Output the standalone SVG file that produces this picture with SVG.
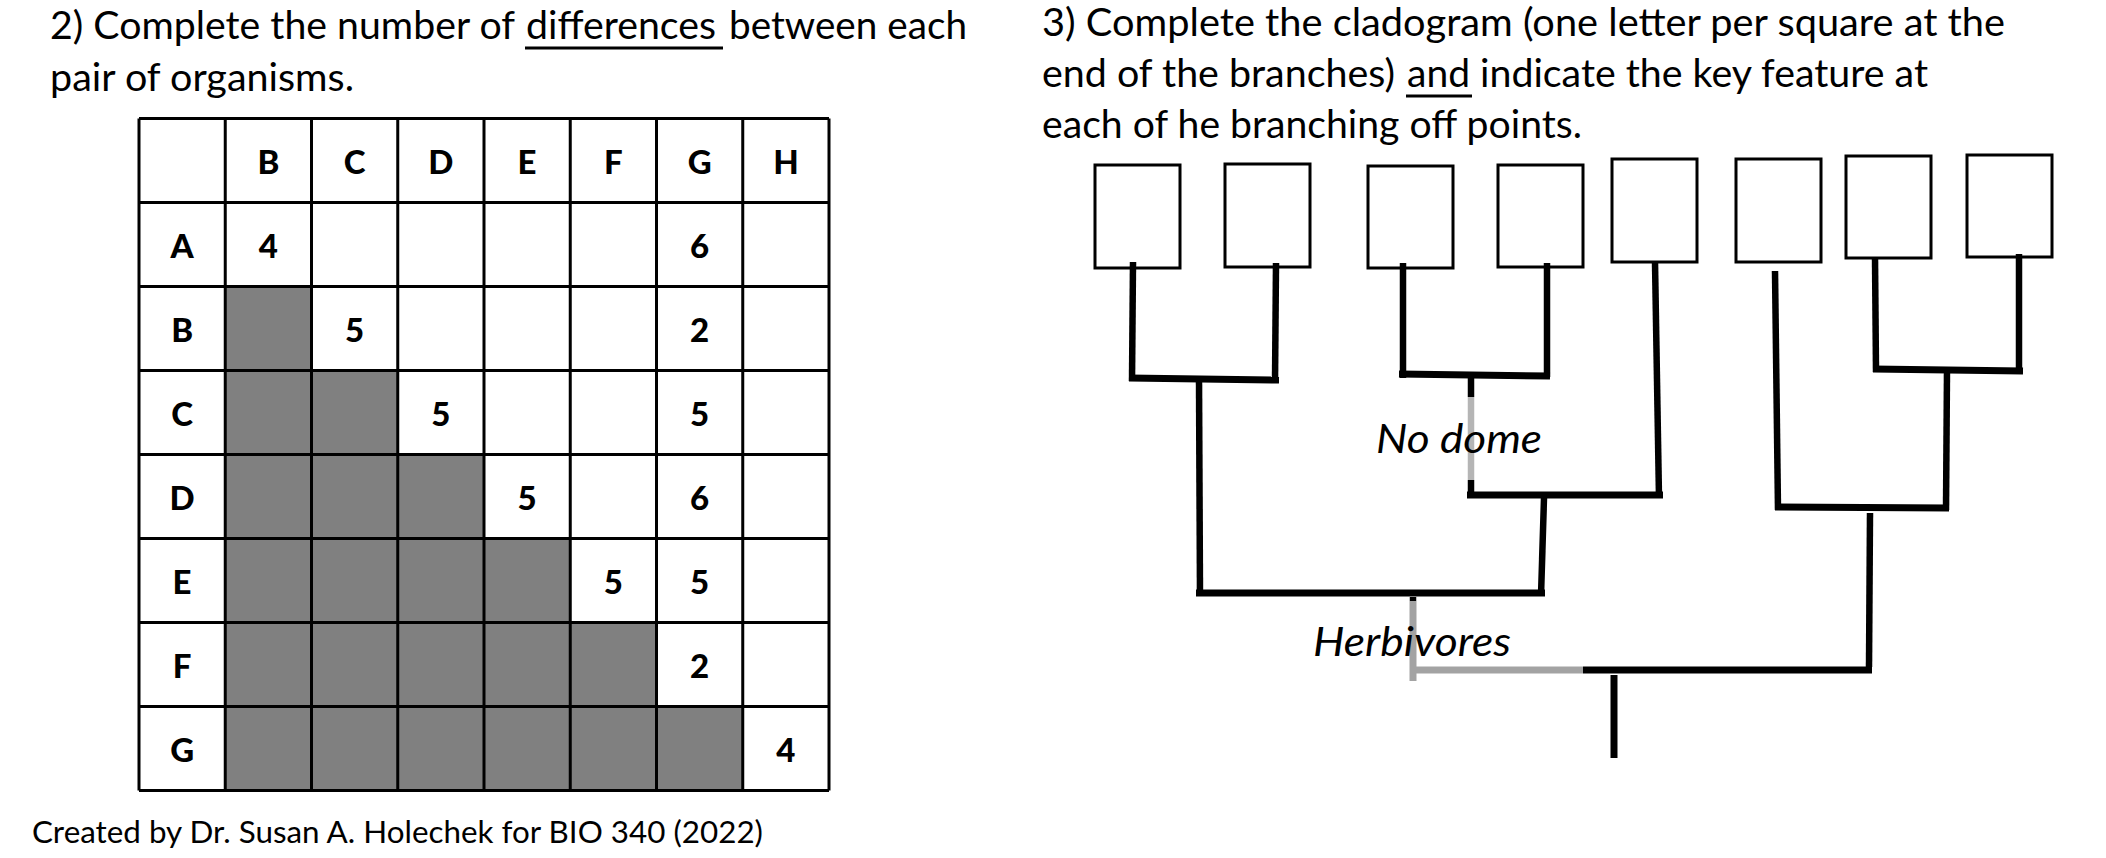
<svg xmlns="http://www.w3.org/2000/svg" width="2106" height="858" viewBox="0 0 2106 858">
<style>
.t{font-family:Lato,"Liberation Sans",sans-serif;font-size:38px;fill:#000}
.ft{font-family:Lato,"Liberation Sans",sans-serif;font-size:31px;fill:#000}
.c{font-family:Lato,"Liberation Sans",sans-serif;font-size:33px;font-weight:900;fill:#000;text-anchor:middle}
.lab{font-family:Lato,"Liberation Sans",sans-serif;font-size:40px;font-style:italic;fill:#000}
.grid{stroke:#000;stroke-width:3;fill:none}
.gray{fill:#808080}
.box{fill:#fff;stroke:#000;stroke-width:3}
.br{stroke:#000;stroke-width:6.5;fill:none;stroke-linecap:butt}
.bar{stroke:#000;stroke-width:7;fill:none}
.g1{stroke:#b5b5b5;stroke-width:6.5;fill:none}
.g2{stroke:#a3a3a3;stroke-width:7;fill:none}
.ul{stroke:#000;stroke-width:3}
</style>
<rect width="2106" height="858" fill="#fff"/>

<g id="title-left">
<text class="t" x="50" y="39" textLength="465" lengthAdjust="spacingAndGlyphs">2) Complete the number of</text>
<text class="t" x="526" y="39" textLength="190" lengthAdjust="spacingAndGlyphs">differences</text>
<line class="ul" x1="525" y1="48" x2="723" y2="48"/>
<text class="t" x="729" y="39" textLength="238" lengthAdjust="spacingAndGlyphs">between each</text>
<text class="t" x="50" y="91" textLength="304" lengthAdjust="spacingAndGlyphs">pair of organisms.</text>
</g>

<g id="title-right">
<text class="t" x="1042" y="36" textLength="963" lengthAdjust="spacingAndGlyphs">3) Complete the cladogram (one letter per square at the</text>
<text class="t" x="1042" y="87" textLength="353" lengthAdjust="spacingAndGlyphs">end of the branches)</text>
<text class="t" x="1407" y="87" textLength="63" lengthAdjust="spacingAndGlyphs">and</text>
<line class="ul" x1="1406" y1="96" x2="1472" y2="96"/>
<text class="t" x="1480" y="87" textLength="448" lengthAdjust="spacingAndGlyphs">indicate the key feature at</text>
<text class="t" x="1042" y="138" textLength="540" lengthAdjust="spacingAndGlyphs">each of he branching off points.</text>
</g>

<g id="table">
<g id="shaded">
<rect class="gray" x="225.25" y="286.5" width="86.25" height="84"/>
<rect class="gray" x="225.25" y="370.5" width="172.5" height="84"/>
<rect class="gray" x="225.25" y="454.5" width="258.75" height="84"/>
<rect class="gray" x="225.25" y="538.5" width="345" height="84"/>
<rect class="gray" x="225.25" y="622.5" width="431.25" height="84"/>
<rect class="gray" x="225.25" y="706.5" width="517.5" height="84"/>
</g>
<path class="grid" d="M139 118.5V790.5M225.25 118.5V790.5M311.5 118.5V790.5M397.75 118.5V790.5M484 118.5V790.5M570.25 118.5V790.5M656.5 118.5V790.5M742.75 118.5V790.5M829 118.5V790.5M139 118.5H829M139 202.5H829M139 286.5H829M139 370.5H829M139 454.5H829M139 538.5H829M139 622.5H829M139 706.5H829M139 790.5H829"/>
<g id="headers">
<text class="c" x="268.4" y="173.5">B</text>
<text class="c" x="354.6" y="173.5">C</text>
<text class="c" x="440.9" y="173.5">D</text>
<text class="c" x="527.1" y="173.5">E</text>
<text class="c" x="613.4" y="173.5">F</text>
<text class="c" x="699.6" y="173.5">G</text>
<text class="c" x="785.9" y="173.5">H</text>
<text class="c" x="182.1" y="257.5">A</text>
<text class="c" x="182.1" y="341.5">B</text>
<text class="c" x="182.1" y="425.5">C</text>
<text class="c" x="182.1" y="509.5">D</text>
<text class="c" x="182.1" y="593.5">E</text>
<text class="c" x="182.1" y="677.5">F</text>
<text class="c" x="182.1" y="761.5">G</text>
</g>
<g id="values">
<text class="c" x="268.4" y="257.5">4</text>
<text class="c" x="699.6" y="257.5">6</text>
<text class="c" x="354.6" y="341.5">5</text>
<text class="c" x="699.6" y="341.5">2</text>
<text class="c" x="440.9" y="425.5">5</text>
<text class="c" x="699.6" y="425.5">5</text>
<text class="c" x="527.1" y="509.5">5</text>
<text class="c" x="699.6" y="509.5">6</text>
<text class="c" x="613.4" y="593.5">5</text>
<text class="c" x="699.6" y="593.5">5</text>
<text class="c" x="699.6" y="677.5">2</text>
<text class="c" x="785.9" y="761.5">4</text>
</g>
</g>

<g id="box1"><rect class="box" x="1095" y="165" width="85" height="103"/></g>
<g id="box2"><rect class="box" x="1225" y="164" width="85" height="103"/></g>
<g id="box3"><rect class="box" x="1368" y="166" width="85" height="102"/></g>
<g id="box4"><rect class="box" x="1498" y="165" width="85" height="102"/></g>
<g id="box5"><rect class="box" x="1612" y="159" width="85" height="103"/></g>
<g id="box6"><rect class="box" x="1736" y="159" width="85" height="103"/></g>
<g id="box7"><rect class="box" x="1846" y="156" width="85" height="102"/></g>
<g id="box8"><rect class="box" x="1967" y="155" width="85" height="102"/></g>

<g id="connectors">
<line class="br" x1="1133" y1="262" x2="1132" y2="381"/>
<line class="br" x1="1276" y1="263" x2="1275" y2="383"/>
<line class="bar" x1="1129" y1="378" x2="1279" y2="380"/>
<line class="br" x1="1199" y1="377" x2="1200" y2="596"/>
<line class="bar" x1="1196" y1="593" x2="1545" y2="593"/>
<line class="br" x1="1544" y1="498" x2="1541" y2="596"/>

<line class="br" x1="1403" y1="263" x2="1403" y2="378"/>
<line class="br" x1="1547" y1="263" x2="1547" y2="377"/>
<line class="bar" x1="1399" y1="374" x2="1550" y2="376"/>
<line class="br" x1="1471" y1="376" x2="1471" y2="397"/>
<line class="g1" x1="1471" y1="397" x2="1471" y2="480"/>
<line class="br" x1="1471" y1="480" x2="1471" y2="492"/>
<line class="bar" x1="1467" y1="495" x2="1663" y2="495"/>
<line class="br" x1="1655" y1="262" x2="1659" y2="498"/>

<line class="br" x1="1775" y1="271" x2="1778" y2="510"/>
<line class="br" x1="1875" y1="257" x2="1876" y2="372"/>
<line class="br" x1="2019" y1="254" x2="2019" y2="371"/>
<line class="bar" x1="1873" y1="369" x2="2023" y2="371"/>
<line class="br" x1="1947" y1="370" x2="1946" y2="510"/>
<line class="bar" x1="1775" y1="507" x2="1949" y2="508"/>
<line class="br" x1="1870" y1="513" x2="1869" y2="667"/>
<line class="bar" x1="1583" y1="670" x2="1872" y2="670"/>
<line class="g2" x1="1413" y1="670" x2="1583" y2="670"/>
<line class="br" x1="1413" y1="597" x2="1413" y2="601"/>
<line class="g2" x1="1413" y1="601" x2="1413" y2="681"/>
<line class="bar" x1="1614" y1="675" x2="1614" y2="758"/>
</g>

<g id="labels">
<text class="lab" x="1376" y="453" textLength="166" lengthAdjust="spacingAndGlyphs">No dome</text>
<text class="lab" x="1313" y="656" textLength="198" lengthAdjust="spacingAndGlyphs">Herbivores</text>
</g>

<g id="footer">
<text class="ft" x="32" y="843" textLength="731" lengthAdjust="spacingAndGlyphs">Created by Dr. Susan A. Holechek for BIO 340 (2022)</text>
</g>
</svg>
